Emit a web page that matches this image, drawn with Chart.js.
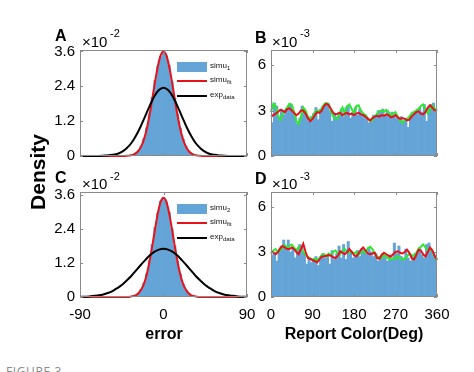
<!DOCTYPE html>
<html>
<head>
<meta charset="utf-8">
<script src="https://cdn.jsdelivr.net/npm/chart.js@4.4.1/dist/chart.umd.min.js"></script>
<style>
body { margin: 0; background: #fff; }
#fig { position: relative; width: 474px; height: 372px; overflow: hidden; background: #fff;
       font-family: "Liberation Sans", Arial, sans-serif; color: #000; }
#fig canvas { position: absolute; }
.t { position: absolute; white-space: nowrap; line-height: 1; }
.b { font-weight: bold; }
.leg { font-size: 8px; color: #111; }
.leg sub { font-size: 6px; vertical-align: -2px; }
.sw { position: absolute; }
</style>
</head>
<body>
<div id="fig">
  <canvas id="cA" width="222" height="132" style="left:40px;top:36px"></canvas>
  <canvas id="cB" width="221" height="132" style="left:231px;top:36px"></canvas>
  <canvas id="cC" width="222" height="149" style="left:40px;top:178px"></canvas>
  <canvas id="cD" width="221" height="149" style="left:231px;top:178px"></canvas>

  <!-- panel letters + exponents -->
  <div class="t b" style="left:55px;top:28px;font-size:16px">A</div>
  <div class="t" style="left:82px;top:34px;font-size:15px">×10</div>
  <div class="t" style="left:110px;top:28px;font-size:11px">-2</div>
  <div class="t b" style="left:255px;top:30px;font-size:16px">B</div>
  <div class="t" style="left:272px;top:34px;font-size:15px">×10</div>
  <div class="t" style="left:300px;top:28px;font-size:11px">-3</div>
  <div class="t b" style="left:55px;top:170px;font-size:16px">C</div>
  <div class="t" style="left:82px;top:176px;font-size:15px">×10</div>
  <div class="t" style="left:110px;top:171px;font-size:11px">-2</div>
  <div class="t b" style="left:255px;top:171px;font-size:16px">D</div>
  <div class="t" style="left:272px;top:176px;font-size:15px">×10</div>
  <div class="t" style="left:300px;top:171px;font-size:11px">-3</div>

  <!-- legends -->
  <div class="sw" id="swA" style="left:177px;top:62px;width:30px;height:10px"></div>
  <div class="sw" style="left:177px;top:80px;width:30px;height:2px;background:#e8121a"></div>
  <div class="sw" style="left:177px;top:95px;width:30px;height:2px;background:#000"></div>
  <div class="t leg" style="left:210px;top:62px">simu<sub>1</sub></div>
  <div class="t leg" style="left:210px;top:76px">simu<sub>fit</sub></div>
  <div class="t leg" style="left:210px;top:91px">exp<sub>data</sub></div>

  <div class="sw" id="swC" style="left:177px;top:204px;width:30px;height:10px"></div>
  <div class="sw" style="left:177px;top:222px;width:30px;height:2px;background:#e8121a"></div>
  <div class="sw" style="left:177px;top:237px;width:30px;height:2px;background:#000"></div>
  <div class="t leg" style="left:210px;top:204px">simu<sub>2</sub></div>
  <div class="t leg" style="left:210px;top:218px">simu<sub>fit</sub></div>
  <div class="t leg" style="left:210px;top:233px">exp<sub>data</sub></div>

  <!-- axis titles -->
  <div class="t b" style="left:-12px;top:161px;width:100px;height:22px;line-height:22px;font-size:21px;text-align:center;transform:rotate(-90deg)">Density</div>
  <div class="t b" style="left:114px;top:326px;width:100px;font-size:16px;text-align:center">error</div>
  <div class="t b" style="left:254px;top:326px;width:200px;font-size:16px;text-align:center">Report Color(Deg)</div>
  <div class="t" style="left:6px;top:366px;font-size:12px;color:#8a8a8a;letter-spacing:0.6px;font-family:'Open Sans',sans-serif">FIGURE 3</div>
</div>

<script>
// Colours
const BLUE = '#64a4d6';
const RED = '#e8121a';
const GREEN = '#2ee82e';
const BOX = '#8a8a8a';
const TICK_FONT = { family: 'Liberation Sans, Arial, sans-serif', size: 15 };

// Tick labels
const ERR_TICKS = [-90, 0, 90];
const DEG_TICKS = [0, 90, 180, 270, 360];
const Y_TICKS_ERR = [0, 1.2, 2.4, 3.6];
const Y_TICKS_DEG = [0, 3, 6];

// error axis (x10^-2)
const HIST_ERR_X = [-45, -42, -39, -36, -33, -30, -27, -24, -21, -18, -15, -12, -9, -6, -3,
                    0, 3, 6, 9, 12, 15, 18, 21, 24, 27, 30, 33, 36, 39, 42, 45];
const FIT_X = [-90, -45, -42, -39, -36, -33, -30, -27, -24, -21, -18, -15, -12, -9, -6, -3,
               0, 3, 6, 9, 12, 15, 18, 21, 24, 27, 30, 33, 36, 39, 42, 45, 90];
const EXP_X = [-90, -85, -80, -75, -70, -65, -60, -55, -50, -45, -40, -35, -30, -25, -20, -15, -10, -5,
               0, 5, 10, 15, 20, 25, 30, 35, 40, 45, 50, 55, 60, 65, 70, 75, 80, 85, 90];

// panel A
const simu1 = [0, 0, 0.01, 0.02, 0.05, 0.10, 0.19, 0.34, 0.60, 0.97, 1.45, 2.02, 2.60, 3.08, 3.42,
               3.55, 3.45, 3.12, 2.55, 1.98, 1.44, 0.95, 0.59, 0.35, 0.18, 0.09, 0.04, 0.02, 0.01, 0, 0];
const fitA = [0, 0, 0, 0.01, 0.02, 0.04, 0.09, 0.18, 0.33, 0.58, 0.94, 1.42, 1.99, 2.58, 3.10, 3.47,
              3.60, 3.47, 3.10, 2.58, 1.99, 1.42, 0.94, 0.58, 0.33, 0.18, 0.09, 0.04, 0.02, 0.01, 0, 0, 0];
const expA = [0, 0, 0, 0, 0, 0.01, 0.02, 0.04, 0.07, 0.14, 0.26, 0.43, 0.68, 0.99, 1.35, 1.72, 2.05, 2.27,
              2.35, 2.27, 2.05, 1.72, 1.35, 0.99, 0.68, 0.43, 0.26, 0.14, 0.07, 0.04, 0.02, 0.01, 0, 0, 0, 0, 0];

// panel C
const simu2 = [0, 0, 0, 0.01, 0.03, 0.07, 0.14, 0.27, 0.49, 0.82, 1.28, 1.85, 2.45, 2.95, 3.38,
               3.48, 3.34, 2.99, 2.40, 1.80, 1.27, 0.81, 0.46, 0.25, 0.13, 0.06, 0.03, 0.01, 0, 0, 0];
const fitC = [0, 0, 0, 0, 0.01, 0.03, 0.06, 0.13, 0.26, 0.47, 0.80, 1.26, 1.82, 2.42, 2.97, 3.36,
              3.50, 3.36, 2.97, 2.42, 1.82, 1.26, 0.80, 0.47, 0.26, 0.13, 0.06, 0.03, 0.01, 0, 0, 0, 0];
const expC = [0.01, 0.01, 0.02, 0.04, 0.06, 0.09, 0.14, 0.21, 0.31, 0.42, 0.57, 0.73, 0.92, 1.11, 1.29, 1.46, 1.59, 1.67,
              1.70, 1.67, 1.59, 1.46, 1.29, 1.11, 0.92, 0.73, 0.57, 0.42, 0.31, 0.21, 0.14, 0.09, 0.06, 0.04, 0.02, 0.01, 0.01];

// report colour axis (x10^-3)
const COLOR_BIN_X = [2.5, 7.5, 12.5, 17.5, 22.5, 27.5, 32.5, 37.5, 42.5, 47.5,
                     52.5, 57.5, 62.5, 67.5, 72.5, 77.5, 82.5, 87.5, 92.5, 97.5,
                     102.5, 107.5, 112.5, 117.5, 122.5, 127.5, 132.5, 137.5, 142.5, 147.5,
                     152.5, 157.5, 162.5, 167.5, 172.5, 177.5, 182.5, 187.5, 192.5, 197.5,
                     202.5, 207.5, 212.5, 217.5, 222.5, 227.5, 232.5, 237.5, 242.5, 247.5,
                     252.5, 257.5, 262.5, 267.5, 272.5, 277.5, 282.5, 287.5, 292.5, 297.5,
                     302.5, 307.5, 312.5, 317.5, 322.5, 327.5, 332.5, 337.5, 342.5, 347.5,
                     352.5, 357.5];
const COLOR_LINE_X = [0, 5, 10, 15, 20, 25, 30, 35, 40, 45,
                      50, 55, 60, 65, 70, 75, 80, 85, 90, 95,
                      100, 105, 110, 115, 120, 125, 130, 135, 140, 145,
                      150, 155, 160, 165, 170, 175, 180, 185, 190, 195,
                      200, 205, 210, 215, 220, 225, 230, 235, 240, 245,
                      250, 255, 260, 265, 270, 275, 280, 285, 290, 295,
                      300, 305, 310, 315, 320, 325, 330, 335, 340, 345,
                      350, 355, 360];

// panel B
const histB = [2.2, 3.5, 3.3, 2.5, 3.1, 2.7, 3.0, 3.3, 3.4, 2.9,
               2.6, 2.1, 2.5, 3.3, 2.9, 2.6, 2.3, 2.6, 2.8, 3.2,
               2.4, 3.1, 3.3, 3.5, 3.4, 3.0, 2.3, 2.8, 2.6, 2.9,
               3.1, 2.6, 3.2, 3.3, 2.5, 2.9, 3.2, 2.7, 3.1, 2.8,
               2.6, 2.5, 2.2, 2.4, 2.7, 2.6, 3.0, 2.9, 3.1, 2.7,
               3.0, 2.6, 2.9, 2.7, 2.5, 2.4, 2.6, 2.3, 2.5, 1.9,
               2.7, 2.9, 2.8, 3.1, 3.2, 2.9, 3.4, 2.3, 3.2, 3.4,
               3.5, 3.0];
const greenB = [2.9, 3.45, 3.3, 2.7, 2.4, 2.7, 3.0, 3.2, 3.45, 3.4,
                2.9, 2.3, 2.1, 2.6, 3.2, 3.0, 2.6, 2.4, 2.6, 2.9,
                3.0, 2.95, 3.15, 3.4, 3.5, 3.45, 3.0, 2.6, 2.45, 2.5,
                2.9, 3.2, 2.8, 3.3, 3.4, 3.1, 2.8, 3.3, 3.35, 3.0,
                2.8, 2.7, 2.5, 2.3, 2.4, 2.6, 2.8, 2.95, 3.0, 2.9,
                3.05, 2.9, 2.7, 2.8, 2.9, 2.6, 2.3, 2.2, 2.35, 2.45,
                2.6, 2.8, 2.9, 3.0, 3.1, 3.3, 3.4, 3.1, 2.8, 3.1,
                3.3, 3.15, 3.0];
const redB = [2.6, 2.7, 2.8, 2.9, 3.05, 3.0, 2.9, 3.1, 3.15, 3.0,
              2.85, 2.7, 2.8, 3.0, 3.0, 2.8, 2.5, 2.3, 2.45, 2.7,
              2.9, 2.85, 3.0, 3.3, 3.45, 3.35, 3.1, 2.85, 2.75, 2.8,
              2.85, 2.7, 2.8, 2.85, 2.75, 2.8, 2.7, 2.8, 2.85, 2.75,
              2.7, 2.6, 2.45, 2.35, 2.5, 2.6, 2.65, 2.6, 2.7, 2.65,
              2.75, 2.7, 2.55, 2.6, 2.7, 2.55, 2.45, 2.5, 2.45, 2.35,
              2.4, 2.6, 2.75, 2.9, 2.95, 2.8, 2.75, 2.9, 3.2, 3.35,
              3.2, 3.0, 2.95];

// panel D
const histD = [2.8, 3.0, 2.4, 3.1, 3.4, 3.8, 3.3, 3.8, 3.0, 3.3,
               2.6, 3.2, 3.5, 3.3, 2.9, 2.2, 2.6, 2.3, 2.5, 2.7,
               2.1, 2.6, 2.9, 2.6, 2.8, 2.2, 3.1, 2.5, 2.9, 3.4,
               2.6, 3.5, 2.5, 3.7, 3.0, 2.6, 2.8, 3.1, 2.7, 3.2,
               3.1, 2.9, 3.3, 3.0, 2.7, 2.9, 2.4, 2.6, 2.9, 2.7,
               2.4, 2.8, 2.5, 3.6, 2.9, 3.4, 2.7, 2.6, 3.2, 2.6,
               2.4, 2.7, 2.9, 3.0, 3.3, 2.8, 2.6, 3.5, 3.6, 3.2,
               2.8, 2.5];
const greenD = [2.9, 3.1, 3.2, 3.0, 3.1, 3.3, 3.45, 3.3, 3.4, 3.5,
                3.3, 3.1, 3.35, 3.2, 3.0, 2.8, 2.7, 2.55, 2.5, 2.55,
                2.45, 2.6, 2.8, 2.85, 2.7, 2.9, 2.8, 3.0, 3.1, 2.9,
                2.85, 3.1, 3.2, 3.0, 2.95, 3.05, 2.9, 3.0, 2.8, 3.0,
                3.05, 2.95, 3.25, 3.35, 3.2, 2.9, 2.7, 2.65, 2.6, 2.8,
                2.7, 2.55, 2.5, 2.6, 2.55, 2.7, 2.6, 2.5, 2.55, 2.7,
                2.9, 2.8, 2.75, 2.95, 3.2, 3.35, 3.5, 3.3, 3.1, 3.2,
                3.05, 2.7, 2.45];
const redD = [3.05, 2.95, 2.85, 3.0, 3.25, 3.4, 3.3, 3.2, 3.2, 3.3,
              3.2, 3.0, 2.85, 3.2, 3.55, 3.0, 2.6, 2.55, 2.45, 2.4,
              2.3, 2.5, 2.7, 2.7, 2.75, 2.8, 2.75, 2.65, 2.6, 2.75,
              3.05, 2.95, 2.85, 3.0, 3.2, 3.0, 2.8, 2.7, 2.9, 3.15,
              3.3, 3.1, 2.9, 2.85, 2.9, 2.95, 2.6, 2.55, 2.8, 2.95,
              2.85, 2.75, 2.7, 2.85, 3.0, 3.05, 2.95, 2.9, 3.0, 3.15,
              2.95, 2.6, 2.5, 2.8, 3.15, 3.1, 2.85, 2.7, 3.0, 3.3,
              3.1, 2.75, 2.5];

document.getElementById('swA').style.background = BLUE;
document.getElementById('swC').style.background = BLUE;

const pts = (xs, ys) => xs.map((x, i) => ({ x, y: ys[i] }));

// matlab style box with inward ticks
const boxPlugin = {
    id: 'box',
    afterDatasetsDraw(chart) {
        const { ctx, chartArea: a, scales: { x, y } } = chart;
        ctx.save();
        ctx.strokeStyle = BOX;
        ctx.lineWidth = 1;
        ctx.strokeRect(a.left + 0.5, a.top + 0.5, a.right - a.left - 1, a.bottom - a.top - 1);
        ctx.beginPath();
        x.ticks.forEach(t => {
            const px = Math.round(x.getPixelForValue(t.value)) + 0.5;
            ctx.moveTo(px, a.bottom); ctx.lineTo(px, a.bottom - 3);
            ctx.moveTo(px, a.top); ctx.lineTo(px, a.top + 3);
        });
        y.ticks.forEach(t => {
            const py = Math.round(y.getPixelForValue(t.value)) + 0.5;
            ctx.moveTo(a.left, py); ctx.lineTo(a.left + 3, py);
            ctx.moveTo(a.right, py); ctx.lineTo(a.right - 3, py);
        });
        ctx.stroke();
        ctx.restore();
    }
};

function bars(xs, ys) {
    return { type: 'bar', data: pts(xs, ys), backgroundColor: BLUE, borderWidth: 0,
             barPercentage: 1, categoryPercentage: 1, order: 3 };
}
function line(xs, ys, color, order, smooth) {
    return { type: 'line', data: pts(xs, ys), borderColor: color, borderWidth: 2, pointRadius: 0,
             fill: false, order, clip: 3,
             tension: smooth ? 0.4 : 0, cubicInterpolationMode: smooth ? 'monotone' : 'default' };
}

// no label overflow padding, so the plot box lands where we want it
function noPad(s) {
    s.paddingTop = 0; s.paddingBottom = 0; s.paddingLeft = 0; s.paddingRight = 0;
}

function panel(id, datasets, xMin, xMax, xTicks, yMax, yTicks, showX) {
    return new Chart(document.getElementById(id), {
        type: 'bar',
        data: { datasets },
        options: {
            responsive: false,
            animation: false,
            layout: { padding: { top: 14, right: 15, left: 0, bottom: 0 } },
            plugins: { legend: { display: false }, tooltip: { enabled: false } },
            scales: {
                x: {
                    type: 'linear', min: xMin, max: xMax, offset: false,
                    grid: { display: false, drawTicks: false },
                    border: { display: false },
                    ticks: { display: showX, padding: 9, color: '#000', font: TICK_FONT, maxRotation: 0, autoSkip: false },
                    afterBuildTicks: s => { s.ticks = xTicks.map(v => ({ value: v })); },
                    afterFit: s => { s.height = showX ? 30 : 12; noPad(s); }
                },
                y: {
                    min: 0, max: yMax,
                    grid: { display: false, drawTicks: false },
                    border: { display: false },
                    ticks: { padding: 5, color: '#000', font: TICK_FONT, callback: v => String(v) },
                    afterBuildTicks: s => { s.ticks = yTicks.map(v => ({ value: v })); },
                    afterFit: s => { s.width = 40; noPad(s); }
                }
            }
        },
        plugins: [boxPlugin]
    });
}

panel('cA', [
    line(EXP_X, expA, '#000', 1, true),
    line(FIT_X, fitA, RED, 2, true),
    bars(HIST_ERR_X, simu1)
], -90, 90, ERR_TICKS, 3.65, Y_TICKS_ERR, false);

panel('cC', [
    line(EXP_X, expC, '#000', 1, true),
    line(FIT_X, fitC, RED, 2, true),
    bars(HIST_ERR_X, simu2)
], -90, 90, ERR_TICKS, 3.7, Y_TICKS_ERR, true);

panel('cB', [
    line(COLOR_LINE_X, redB, RED, 1, false),
    line(COLOR_LINE_X, greenB, GREEN, 2, false),
    bars(COLOR_BIN_X, histB)
], 0, 360, DEG_TICKS, 7, Y_TICKS_DEG, false);

panel('cD', [
    line(COLOR_LINE_X, redD, RED, 1, false),
    line(COLOR_LINE_X, greenD, GREEN, 2, false),
    bars(COLOR_BIN_X, histD)
], 0, 360, DEG_TICKS, 7, Y_TICKS_DEG, true);
</script>
</body>
</html>
